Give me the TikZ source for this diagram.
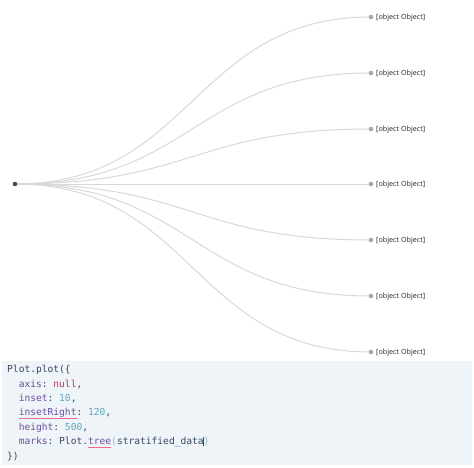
\documentclass[tikz,border=0pt]{standalone}
\usepackage{fontspec}
\setmainfont{Open Sans}
\setmonofont{DejaVu Sans Mono}
\definecolor{linkgray}{HTML}{D8D8D8}
\definecolor{rootdot}{HTML}{4A4A4A}
\definecolor{leafdot}{HTML}{A8A8A8}
\definecolor{panelbg}{HTML}{EFF4F9}
\definecolor{codedark}{HTML}{3A4763}
\definecolor{codekey}{HTML}{6B4E9E}
\definecolor{codenull}{HTML}{C0306A}
\definecolor{codenum}{HTML}{5AA8C2}
\definecolor{codeparen}{HTML}{8CB9CA}
\definecolor{ulpink}{HTML}{EE6A8C}
\newcommand\squigul[1]{\setbox0\hbox{#1}\rlap{\textcolor{ulpink}{\rule[-3pt]{\wd0}{1pt}}}\box0}
\newcommand\ck[1]{\textcolor{codekey}{#1}}
\newcommand\cn[1]{\textcolor{codenum}{#1}}
\begin{document}
\begin{tikzpicture}[x=1pt,y=-1pt,
  link/.style={draw=linkgray,line width=1pt},
  rootdotstyle/.style={circle,fill=rootdot,inner sep=0pt,minimum size=4.6pt},
  leafdotstyle/.style={circle,fill=leafdot,inner sep=0pt,minimum size=4.6pt},
  leaflabel/.style={anchor=mid west,inner sep=0pt,font=\fontsize{7.2}{8}\selectfont,text=black!85},
  codeline/.style={anchor=mid west,inner sep=0pt,font=\ttfamily\fontsize{9.6}{11}\selectfont,text=codedark}]
\useasboundingbox (0,0) rectangle (474,467);
% positions
\coordinate (root) at (15,184);
\coordinate (mid) at (193,0);
\foreach \i/\y in {1/17,2/73,3/129,4/184,5/240,6/296,7/352}{
  \coordinate (leaf\i) at (371,\y);
}
% links
\foreach \i in {1,...,7}{
  \draw[link] (root) .. controls (root -| mid) and (leaf\i -| mid) .. (leaf\i);
}
% dots and labels
\node[rootdotstyle] (rootdot) at (root) {};
\foreach \i in {1,...,7}{
  \node[leafdotstyle] (leafdot\i) at (leaf\i) {};
  \node[leaflabel] (label\i) at ([xshift=5pt]leaf\i) {[object Object]};
}
% code panel
\fill[panelbg] (2,361) rectangle (472,465);
\node[codeline] (c1) at (7,370) {Plot.plot(\{};
\node[codeline] (c2) at (7,384.4) {\ \ \ck{axis}: \textcolor{codenull}{null},};
\node[codeline] (c3) at (7,398.8) {\ \ \ck{inset}: \cn{10},};
\node[codeline] (c4) at (7,413.2) {\ \ \squigul{\ck{insetRight}}: \cn{120},};
\node[codeline] (c5) at (7,427.6) {\ \ \ck{height}: \cn{500},};
\node[codeline] (c6) at (7,442.0) {\ \ \ck{marks}: Plot.\squigul{\ck{tree}}\textcolor{codeparen}{(}stratified\_data\rlap{\hspace{-0.8pt}\rule[-1.5pt]{0.6pt}{9pt}}\textcolor{codeparen}{)}};
\node[codeline] (c7) at (7,456.4) {\})};
\end{tikzpicture}
\end{document}
